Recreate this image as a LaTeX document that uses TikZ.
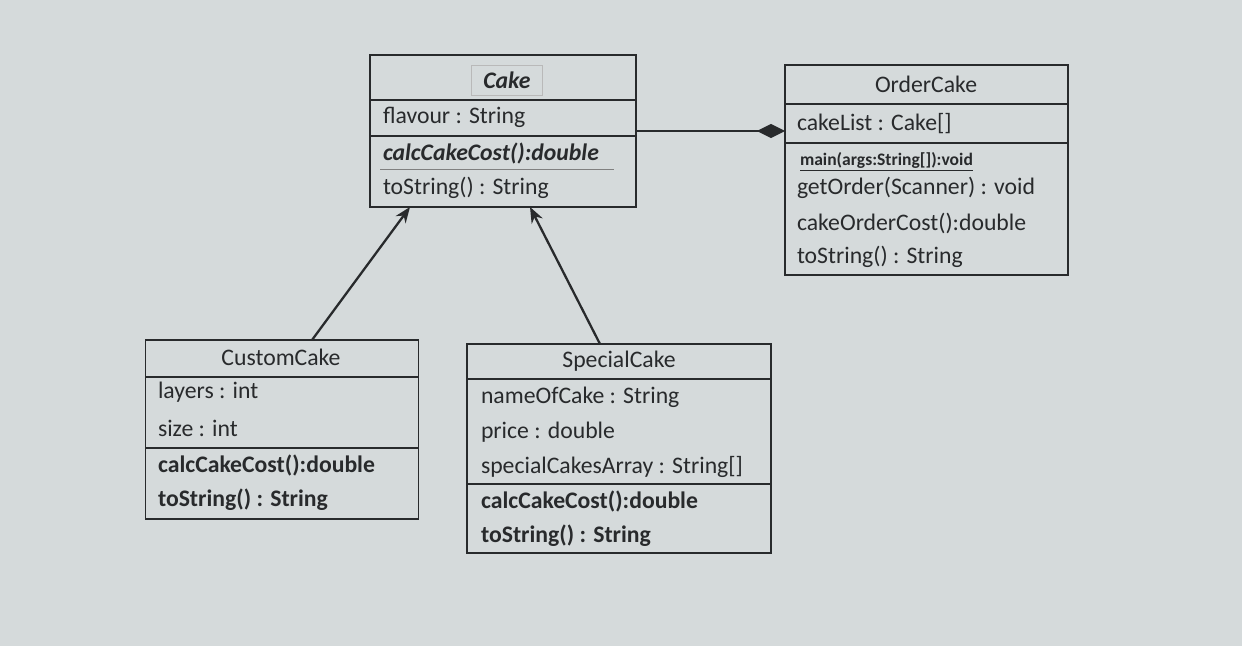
\documentclass[tikz,border=0pt]{standalone}
\usepackage{fontspec}
\setmainfont{Carlito}
\usetikzlibrary{arrows.meta}
\definecolor{paper}{RGB}{213,218,219}
\definecolor{ink}{RGB}{40,42,44}
\begin{document}
\begin{tikzpicture}[x=0.02cm, y=-0.02cm]
\tikzset{ >={Stealth[length=9pt, width=7pt]}, inner sep=0pt, outer sep=0pt,
  box/.style={draw=ink, line width=1.1pt, rectangle},
  txt/.style={anchor=west, text=ink, font=\fontsize{13.5}{16}\selectfont},
  ttl/.style={text=ink, font=\fontsize{13.5}{16}\selectfont},
  opb/.style={txt, font=\fontsize{13.5}{16}\selectfont\bfseries},
}
\fill [paper] (0,0) rectangle (1242,646);
\useasboundingbox (0,0) rectangle (1242,646);
%\draw [lightgray, dashed](0,0) grid (1242,646);

% class boxes
\node [box, minimum width=5.32cm, minimum height=3.04cm] (CK) at (503,131) {};
\node [box, minimum width=5.66cm, minimum height=4.20cm] (OC) at (926.5,170) {};
\node [box, minimum width=5.46cm, minimum height=3.58cm] (CC) at (282,429.5) {};
\node [box, minimum width=6.08cm, minimum height=4.18cm] (SC) at (619,448.5) {};

% compartments
\draw [ink, line width=1.1pt] (370,100) -- (636,100);
\draw [ink, line width=1.1pt] (370,136) -- (636,136);
\draw [gray, thin] (380,169) -- (614,169);
\draw [ink, line width=1.1pt] (785,104) -- (1068,104);
\draw [ink, line width=1.1pt] (785,143) -- (1068,143);
\draw [ink, line width=1.1pt] (146,377) -- (418,377);
\draw [ink, line width=1.1pt] (146,448) -- (418,448);
\draw [ink, line width=1.1pt] (467,379) -- (771,379);
\draw [ink, line width=1.1pt] (467,484) -- (771,484);

% Cake
\node [ttl, draw=gray!55, thin, minimum width=1.42cm, minimum height=0.6cm,
       font=\fontsize{13.5}{16}\selectfont\bfseries\itshape] (CKt) at (507,80) {Cake};
\node [txt] (CK1) at (383,117) {flavour : String};
\node [opb, font=\fontsize{13.5}{16}\selectfont\bfseries\itshape] (CK2) at (383,153) {calcCakeCost():double};
\node [txt] (CK3) at (383,188) {toString() : String};

% OrderCake
\node [ttl] (OCt) at (926,84) {OrderCake};
\node [txt] (OC1) at (797,124) {cakeList : Cake[]};
\node [txt, font=\fontsize{10}{12}\selectfont\bfseries] (OC2) at (800,162) {\underline{main(args:String[]):void}};
\node [txt] (OC3) at (797,188) {getOrder(Scanner) : void};
\node [txt] (OC4) at (797,223) {cakeOrderCost():double};
\node [txt] (OC5) at (797,257) {toString() : String};

% CustomCake
\node [ttl] (CCt) at (281,357) {CustomCake};
\node [txt] (CC1) at (158,392) {layers : int};
\node [txt] (CC2) at (158,428) {size : int};
\node [opb] (CC3) at (158,465) {calcCakeCost():double};
\node [opb] (CC4) at (158,500) {toString() : String};

% SpecialCake
\node [ttl] (SCt) at (619,361) {SpecialCake};
\node [txt] (SC1) at (481,397) {nameOfCake : String};
\node [txt] (SC2) at (481,432) {price : double};
\node [txt] (SC3) at (481,467) {specialCakesArray : String[]};
\node [opb] (SC4) at (481,501) {calcCakeCost():double};
\node [opb] (SC5) at (481,536) {toString() : String};

% relations
\draw [->, ink, line width=1.3pt] ([xshift=0.6cm]CC.north) -- ([xshift=-1.86cm]CK.south);
\draw [->, ink, line width=1.3pt] ([xshift=-0.38cm]SC.north) -- ([xshift=0.54cm]CK.south);
\draw [-{Diamond[length=16pt, width=8pt]}, ink, line width=1.3pt] (CK.east) -- (CK.east -| OC.west);

\end{tikzpicture}
\end{document}
